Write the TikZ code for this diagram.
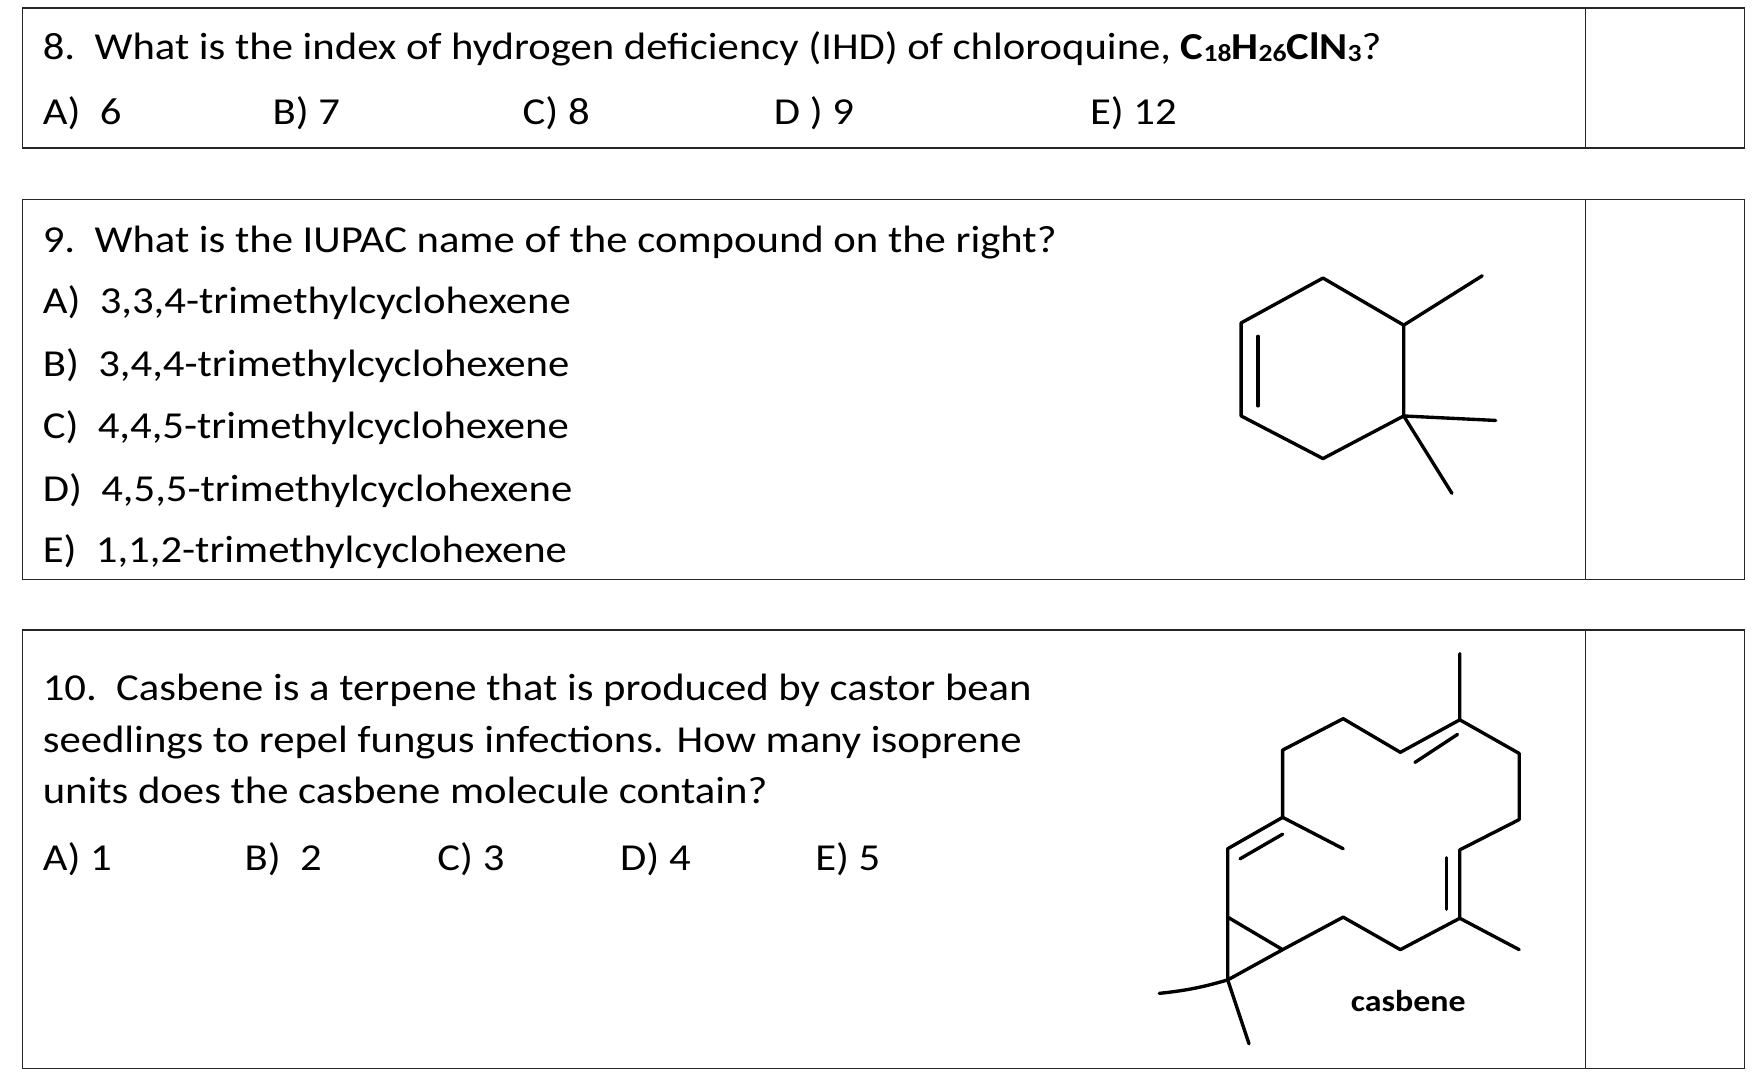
\documentclass[tikz,border=0pt]{standalone}
\usepackage{fontspec}
\setmainfont{Carlito}[FakeStretch=1.12]
\newcommand{\sbs}[1]{\raisebox{-2pt}{\fontsize{22}{22}\selectfont #1}}
\begin{document}
\begin{tikzpicture}[x=1pt,y=-1pt,
  txt/.style={anchor=base west,inner sep=0pt,font=\fontsize{34}{40}\selectfont},
  frame/.style={draw=black!85,line width=1.3pt},
  bond/.style={line width=3pt,line cap=round,line join=round}]
\useasboundingbox (0,0) rectangle (1568,967);
\fill[white] (0,0) rectangle (1568,967);
% frames
\foreach \a/\b in {7/132,178/517,562/953}{
  \draw[frame] (20,\a) rectangle (1556,\b);
  \draw[frame] (1414,\a) -- (1414,\b);
}
% Q8
\node[txt] (q8) at (38,53) {8.\ \ What is the index of hydrogen deficiency (IHD) of chloroquine, \textbf{C\sbs{18}H\sbs{26}ClN\sbs{3}}?};
\node[txt] (a8) at (38,111) {A)\ \ 6};
\node[txt] (b8) at (243,111) {B) 7};
\node[txt] (c8) at (466,111) {C) 8};
\node[txt] (d8) at (690,111) {D ) 9};
\node[txt] (e8) at (972,111) {E) 12};
% Q9
\node[txt] (q9) at (38,225) {9.\ \ What is the IUPAC name of the compound on the right?};
\node[txt] (a9) at (38,280) {A)\ \ 3,3,4-trimethylcyclohexene};
\node[txt] (b9) at (38,336) {B)\ \ 3,4,4-trimethylcyclohexene};
\node[txt] (c9) at (38,391) {C)\ \ 4,4,5-trimethylcyclohexene};
\node[txt] (d9) at (38,447) {D)\ \ 4,5,5-trimethylcyclohexene};
\node[txt] (e9) at (38,502) {E)\ \ 1,1,2-trimethylcyclohexene};
% Q9 molecule
\coordinate (r1) at (1180,248); \coordinate (r2) at (1252,290);
\coordinate (r3) at (1252,371); \coordinate (r4) at (1180,409);
\coordinate (r5) at (1107,371); \coordinate (r6) at (1107,288);
\draw[bond] (r1)--(r2)--(r3)--(r4)--(r5)--(r6)--cycle;
\coordinate (d1) at (1122,300); \coordinate (d2) at (1122,362);
\draw[bond] (d1)--(d2);
\coordinate (m1) at (1322,246); \coordinate (m2) at (1334,375); \coordinate (m3) at (1295,440);
\draw[bond] (r2)--(m1); \draw[bond] (r3)--(m2); \draw[bond] (r3)--(m3);
% Q10
\node[txt] (q10a) at (38,625) {10.\ \ Casbene is a terpene that is produced by castor bean};
\node[txt] (q10b) at (38,671) {seedlings to repel fungus infections. How many isoprene};
\node[txt] (q10c) at (38,717) {units does the casbene molecule contain?};
\node[txt] (a10) at (38,776) {A) 1};
\node[txt] (b10) at (218,776) {B)\ \ 2};
\node[txt] (c10) at (390,776) {C) 3};
\node[txt] (d10) at (553,776) {D) 4};
\node[txt] (e10) at (727,776) {E) 5};
% casbene
\coordinate (T) at (1302,583);
\coordinate (A) at (1302,642); \coordinate (B) at (1355,672);
\coordinate (C) at (1355,731); \coordinate (D) at (1302,758);
\coordinate (E) at (1302,819); \coordinate (Em) at (1355,847);
\coordinate (F) at (1249,847); \coordinate (G) at (1198,818);
\coordinate (H) at (1144,847); \coordinate (I) at (1095,818);
\coordinate (J) at (1095,874); \coordinate (Jl) at (1034,886);
\coordinate (Jd) at (1114,931); \coordinate (K) at (1095,757);
\coordinate (L) at (1144,729); \coordinate (Lm) at (1198,757);
\coordinate (M) at (1144,669); \coordinate (N) at (1198,641);
\coordinate (O) at (1249,671);
\draw[bond] (A)--(B)--(C)--(D)--(E)--(F)--(G)--(H)--(J)--(I)--(H);
\draw[bond] (I)--(K)--(L)--(M)--(N)--(O)--(A)--(T);
\draw[bond] (E)--(Em); \draw[bond] (L)--(Lm);
\draw[bond] (J)--(Jd); \draw[bond] (J) to[bend left=5] (Jl);
\draw[bond] (1262,680)--(1300,655);
\draw[bond] (1106,766)--(1144,744);
\draw[bond] (1290,765)--(1290,811);
\node[anchor=center,font=\bfseries\fontsize{27}{30}\selectfont] (cl) at (1256,893) {casbene};
\end{tikzpicture}
\end{document}
